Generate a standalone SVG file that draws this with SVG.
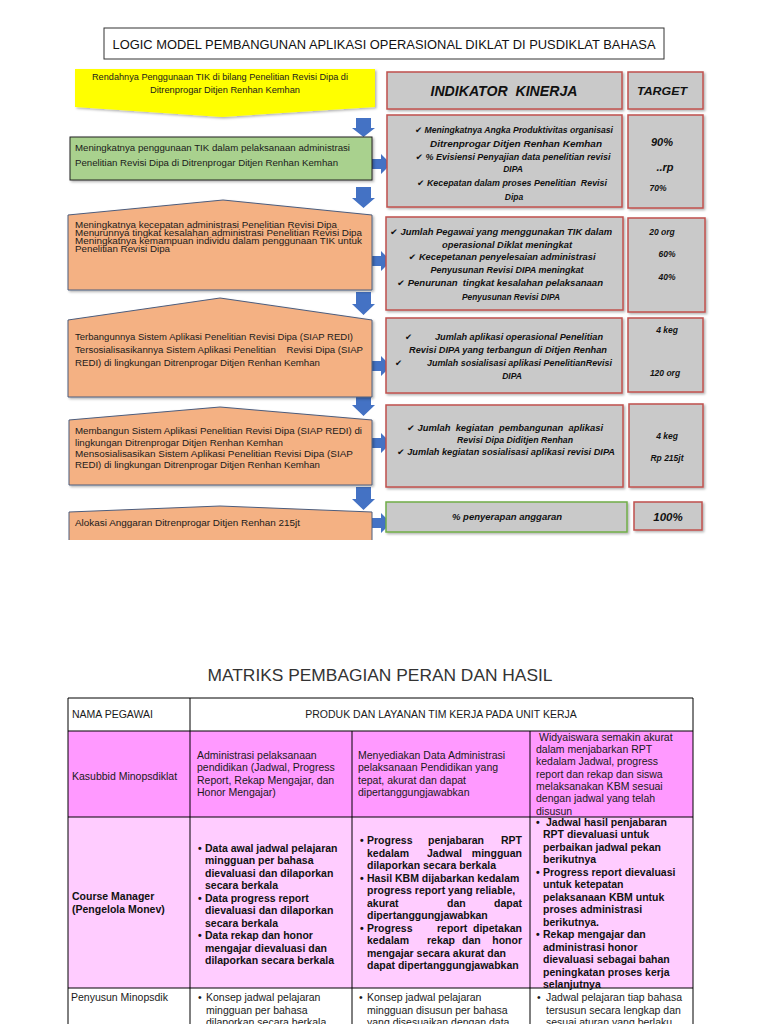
<svg xmlns="http://www.w3.org/2000/svg" width="768" height="1024" viewBox="0 0 768 1024">
<defs>
<style>
.lm{font-family:"Liberation Sans",Arial,sans-serif;font-size:8.5px;fill:#1a1a1a}
.ri{font-family:"Liberation Sans","DejaVu Sans",sans-serif;font-weight:bold;font-style:italic;font-size:8.5px;fill:#111}
.tb{font-family:"Liberation Sans",Arial,sans-serif;font-size:10.5px;fill:#1a1a1a}
.tbb{font-family:"Liberation Sans",Arial,sans-serif;font-size:10.5px;font-weight:bold;fill:#111}
.rbox{fill:#c9c9c9;stroke:#c0504d;stroke-width:1.5}
.obox{fill:#f4b183;stroke:#4d5d7d;stroke-width:1}
.arr{fill:#4472c4}
.grid{stroke:#000;stroke-width:1;fill:none}
</style>
<filter id="sh" x="-5%" y="-5%" width="115%" height="120%">
<feDropShadow dx="1.5" dy="1.5" stdDeviation="1.2" flood-color="#000" flood-opacity="0.3"/>
</filter>
</defs>
<rect width="768" height="1024" fill="#fff"/>

<g id="title">
<rect x="104" y="28" width="560" height="31" fill="#fff" stroke="#333" stroke-width="1"/>
<text x="384" y="49" text-anchor="middle" textLength="543" lengthAdjust="spacingAndGlyphs" style="font-family:'Liberation Sans',Arial,sans-serif;font-size:12.5px;fill:#111">LOGIC MODEL PEMBANGUNAN APLIKASI OPERASIONAL DIKLAT DI PUSDIKLAT BAHASA</text>
</g>

<g id="connectors">
<polygon class="arr" points="356,118 371,118 371,128 375,128 363.5,137 352,128 356,128"/>
<polygon class="arr" points="356,187 371,187 371,198 375,198 363.5,208 352,198 356,198"/>
<polygon class="arr" points="356,292 371,292 371,304 375,304 363.5,315 352,304 356,304"/>
<polygon class="arr" points="356,393 371,393 371,405 375,405 363.5,416 352,405 356,405"/>
<polygon class="arr" points="356,487 371,487 371,499 375,499 363.5,510 352,499 356,499"/>
<polygon class="arr" points="371,159 381,159 381,154 391,164 381,174 381,169 371,169"/>
<polygon class="arr" points="371,256 381,256 381,251 391,261 381,271 381,266 371,266"/>
<polygon class="arr" points="371,361 381,361 381,356 391,366 381,376 381,371 371,371"/>
<polygon class="arr" points="371,438 381,438 381,433 391,443 381,453 381,448 371,448"/>
<polygon class="arr" points="371,518 381,518 381,513 391,523 381,533 381,528 371,528"/>
</g>

<g id="n-problem">
<polygon points="75,69 375,69 375,107 222,117 75,107" fill="#ffff00" filter="url(#sh)"/>
<text class="lm" x="220" y="80" text-anchor="middle" textLength="256" lengthAdjust="spacingAndGlyphs">Rendahnya Penggunaan TIK di bilang Penelitian Revisi Dipa di</text>
<text class="lm" x="225" y="93" text-anchor="middle" textLength="150" lengthAdjust="spacingAndGlyphs">Ditrenprogar  Ditjen Renhan Kemhan</text>
</g>

<g id="n-impact">
<rect x="70" y="137" width="302" height="43" fill="#a9d18e" stroke="#222" stroke-width="1" filter="url(#sh)"/>
<text class="lm" x="75" y="151" textLength="275" lengthAdjust="spacingAndGlyphs">Meningkatnya penggunaan TIK dalam pelaksanaan administrasi</text>
<text class="lm" x="75" y="166" textLength="263" lengthAdjust="spacingAndGlyphs">Penelitian Revisi Dipa di Ditrenprogar Ditjen Renhan Kemhan</text>
</g>

<g id="n-outcome">
<polygon class="obox" points="68,215 223,200 372,215 372,290 68,290" filter="url(#sh)"/>
<text class="lm" x="75" y="228" textLength="262" lengthAdjust="spacingAndGlyphs">Meningkatnya kecepatan administrasi Penelitian Revisi Dipa</text>
<text class="lm" x="75" y="236" textLength="287" lengthAdjust="spacingAndGlyphs">Menurunnya tingkat kesalahan administrasi Penelitian Revisi Dipa</text>
<text class="lm" x="75" y="244" textLength="287" lengthAdjust="spacingAndGlyphs">Meningkatnya kemampuan individu dalam penggunaan TIK untuk</text>
<text class="lm" x="75" y="252" textLength="95" lengthAdjust="spacingAndGlyphs">Penelitian Revisi Dipa</text>
</g>

<g id="n-output">
<polygon class="obox" points="68,320 220,298 372,320 372,397 68,397" filter="url(#sh)"/>
<text class="lm" x="75" y="340" textLength="278" lengthAdjust="spacingAndGlyphs">Terbangunnya Sistem Aplikasi Penelitian Revisi Dipa  (SIAP REDI)</text>
<text class="lm" x="75" y="353" textLength="288" lengthAdjust="spacingAndGlyphs" xml:space="preserve">Tersosialisasikannya Sistem Aplikasi Penelitian    Revisi Dipa (SIAP</text>
<text class="lm" x="75" y="366" textLength="245" lengthAdjust="spacingAndGlyphs">REDI) di lingkungan Ditrenprogar Ditjen Renhan Kemhan</text>
</g>

<g id="n-activity">
<polygon class="obox" points="69,420 220,407 372,420 372,485 69,485" filter="url(#sh)"/>
<text class="lm" x="75" y="434" textLength="287" lengthAdjust="spacingAndGlyphs">Membangun  Sistem Aplikasi Penelitian Revisi Dipa  (SIAP REDI) di</text>
<text class="lm" x="75" y="446" textLength="208" lengthAdjust="spacingAndGlyphs">lingkungan Ditrenprogar Ditjen Renhan Kemhan</text>
<text class="lm" x="75" y="457" textLength="278" lengthAdjust="spacingAndGlyphs">Mensosialisasikan Sistem Aplikasi Penelitian Revisi Dipa  (SIAP</text>
<text class="lm" x="75" y="468" textLength="245" lengthAdjust="spacingAndGlyphs">REDI) di lingkungan Ditrenprogar Ditjen Renhan Kemhan</text>
</g>

<g id="n-input">
<polygon points="69,540 69,512 220,506 372,512 372,540" fill="#f4b183"/>
<polyline points="69,540 69,512 220,506 372,512 372,540" fill="none" stroke="#4d5d7d" stroke-width="1"/>
<text class="lm" x="75" y="526" textLength="225" lengthAdjust="spacingAndGlyphs">Alokasi Anggaran Ditrenprogar Ditjen Renhan 215jt</text>
</g>

<g id="n-indikator-head">
<rect class="rbox" x="387" y="72" width="235" height="37" filter="url(#sh)"/>
<text class="ri" x="504" y="96" text-anchor="middle" style="font-size:14px" textLength="147" lengthAdjust="spacingAndGlyphs" xml:space="preserve">INDIKATOR  KINERJA</text>
</g>
<g id="n-target-head">
<rect class="rbox" x="628" y="72" width="75" height="37" filter="url(#sh)"/>
<text class="ri" x="662" y="95" text-anchor="middle" style="font-size:10.5px" textLength="50" lengthAdjust="spacingAndGlyphs">TARGET</text>
</g>

<g id="n-ind-impact">
<rect class="rbox" x="387" y="115" width="235" height="92" filter="url(#sh)"/>
<text class="ri" x="514" y="133" text-anchor="middle" textLength="198" lengthAdjust="spacingAndGlyphs">✔ Meningkatnya Angka Produktivitas organisasi</text>
<text class="ri" x="516" y="147" text-anchor="middle" textLength="172" lengthAdjust="spacingAndGlyphs">Ditrenprogar Ditjen Renhan Kemhan</text>
<text class="ri" x="513" y="160" text-anchor="middle" textLength="195" lengthAdjust="spacingAndGlyphs">✔ % Evisiensi Penyajian data penelitian revisi</text>
<text class="ri" x="513" y="172" text-anchor="middle">DIPA</text>
<text class="ri" x="512" y="186" text-anchor="middle" textLength="190" lengthAdjust="spacingAndGlyphs" xml:space="preserve">✔ Kecepatan dalam proses Penelitian  Revisi</text>
<text class="ri" x="514" y="200" text-anchor="middle">Dipa</text>
</g>
<g id="n-tgt-impact">
<rect class="rbox" x="628" y="115" width="75" height="93" filter="url(#sh)"/>
<text class="ri" x="662" y="146" text-anchor="middle" style="font-size:11px">90%</text>
<text class="ri" x="665" y="171" text-anchor="middle" style="font-size:11px">..rp</text>
<text class="ri" x="658" y="191" text-anchor="middle">70%</text>
</g>

<g id="n-ind-outcome">
<rect class="rbox" x="386" y="217" width="237" height="93" filter="url(#sh)"/>
<text class="ri" x="501" y="235" text-anchor="middle" textLength="222" lengthAdjust="spacingAndGlyphs">✔ Jumlah Pegawai yang menggunakan TIK dalam</text>
<text class="ri" x="507" y="248" text-anchor="middle" textLength="130" lengthAdjust="spacingAndGlyphs">operasional Diklat meningkat</text>
<text class="ri" x="502" y="260" text-anchor="middle" textLength="187" lengthAdjust="spacingAndGlyphs">✔ Kecepetanan penyelesaian administrasi</text>
<text class="ri" x="507" y="273" text-anchor="middle" textLength="153" lengthAdjust="spacingAndGlyphs">Penyusunan Revisi DIPA meningkat</text>
<text class="ri" x="500" y="286" text-anchor="middle" textLength="206" lengthAdjust="spacingAndGlyphs" xml:space="preserve">✔ Penurunan  tingkat kesalahan pelaksanaan</text>
<text class="ri" x="511" y="300" text-anchor="middle" textLength="98" lengthAdjust="spacingAndGlyphs">Penyusunan Revisi DIPA</text>
</g>
<g id="n-tgt-outcome">
<rect class="rbox" x="628" y="218" width="77" height="94" filter="url(#sh)"/>
<text class="ri" x="662" y="235" text-anchor="middle">20 org</text>
<text class="ri" x="667" y="257" text-anchor="middle">60%</text>
<text class="ri" x="667" y="280" text-anchor="middle">40%</text>
</g>

<g id="n-ind-output">
<rect class="rbox" x="386" y="318" width="236" height="75" filter="url(#sh)"/>
<text class="ri" x="405" y="340">✔</text>
<text class="ri" x="435" y="340" textLength="168" lengthAdjust="spacingAndGlyphs">Jumlah aplikasi operasional Penelitian</text>
<text class="ri" x="508" y="353" text-anchor="middle" textLength="198" lengthAdjust="spacingAndGlyphs">Revisi DIPA yang terbangun di Ditjen Renhan</text>
<text class="ri" x="395" y="366">✔</text>
<text class="ri" x="427" y="366" textLength="185" lengthAdjust="spacingAndGlyphs">Jumlah sosialisasi aplikasi PenelitianRevisi</text>
<text class="ri" x="512" y="379" text-anchor="middle">DIPA</text>
</g>
<g id="n-tgt-output">
<rect class="rbox" x="628" y="318" width="75" height="74" filter="url(#sh)"/>
<text class="ri" x="667" y="333" text-anchor="middle">4 keg</text>
<text class="ri" x="665" y="376" text-anchor="middle">120 org</text>
</g>

<g id="n-ind-activity">
<rect class="rbox" x="386" y="405" width="237" height="82" filter="url(#sh)"/>
<text class="ri" x="505" y="431" text-anchor="middle" textLength="196" lengthAdjust="spacingAndGlyphs" xml:space="preserve">✔ Jumlah  kegiatan  pembangunan  aplikasi</text>
<text class="ri" x="515" y="443" text-anchor="middle" textLength="116" lengthAdjust="spacingAndGlyphs">Revisi Dipa Diditjen Renhan</text>
<text class="ri" x="506" y="455" text-anchor="middle" textLength="218" lengthAdjust="spacingAndGlyphs">✔ Jumlah kegiatan sosialisasi aplikasi revisi DIPA</text>
</g>
<g id="n-tgt-activity">
<rect class="rbox" x="629" y="404" width="74" height="83" filter="url(#sh)"/>
<text class="ri" x="667" y="439" text-anchor="middle">4 keg</text>
<text class="ri" x="667" y="461" text-anchor="middle">Rp 215jt</text>
</g>

<g id="n-ind-input">
<rect x="386" y="502" width="241" height="30" fill="#c9c9c9" stroke="#70ad47" stroke-width="1.5" filter="url(#sh)"/>
<text class="ri" x="507" y="520" text-anchor="middle" textLength="110" lengthAdjust="spacingAndGlyphs">% penyerapan anggaran</text>
</g>
<g id="n-tgt-input">
<rect class="rbox" x="634" y="502" width="68" height="28" filter="url(#sh)"/>
<text class="ri" x="668" y="521" text-anchor="middle" style="font-size:11.5px">100%</text>
</g>

<g id="matrix">
<text x="380" y="681" text-anchor="middle" textLength="345" lengthAdjust="spacingAndGlyphs" style="font-family:'Liberation Sans',Arial,sans-serif;font-size:17px;fill:#333">MATRIKS PEMBAGIAN PERAN DAN HASIL</text>
<rect x="68" y="731" width="625" height="86" fill="#ff99ff"/>
<rect x="68" y="817" width="625" height="171" fill="#ffccff"/>
<path class="grid" d="M68,698 H693 M68,731 H693 M68,817 H693 M68,988 H693 M68,698 V1024 M190,698 V1024 M693,698 V1024 M352,731 V1024 M530,731 V1024"/>

<text class="tb" x="72" y="718">NAMA PEGAWAI</text>
<text class="tb" x="441" y="718" text-anchor="middle">PRODUK DAN LAYANAN TIM KERJA PADA UNIT KERJA</text>

<text class="tb" x="72" y="780">Kasubbid Minopsdiklat</text>
<text class="tb" x="197" y="759">Administrasi pelaksanaan</text>
<text class="tb" x="197" y="771">pendidikan (Jadwal, Progress</text>
<text class="tb" x="197" y="784">Report, Rekap Mengajar, dan</text>
<text class="tb" x="197" y="796">Honor Mengajar)</text>
<text class="tb" x="358" y="759">Menyediakan Data Administrasi</text>
<text class="tb" x="358" y="771">pelaksanaan Pendidikan yang</text>
<text class="tb" x="358" y="784">tepat, akurat dan dapat</text>
<text class="tb" x="358" y="796">dipertanggungjawabkan</text>
<text class="tb" x="539" y="741">Widyaiswara semakin akurat</text>
<text class="tb" x="536" y="753">dalam menjabarkan RPT</text>
<text class="tb" x="536" y="765">kedalam Jadwal, progress</text>
<text class="tb" x="536" y="778">report dan rekap dan siswa</text>
<text class="tb" x="536" y="790">melaksanakan KBM sesuai</text>
<text class="tb" x="536" y="802">dengan jadwal yang telah</text>
<text class="tb" x="536" y="815">disusun</text>

<text class="tbb" x="72" y="900">Course Manager</text>
<text class="tbb" x="72" y="913">(Pengelola Monev)</text>

<text class="tbb" x="198" y="851.5">•</text>
<text class="tbb" x="205" y="851.5">Data awal jadwal pelajaran</text>
<text class="tbb" x="205" y="864">mingguan per bahasa</text>
<text class="tbb" x="205" y="876.5">dievaluasi dan dilaporkan</text>
<text class="tbb" x="205" y="889">secara berkala</text>
<text class="tbb" x="198" y="901.5">•</text>
<text class="tbb" x="205" y="901.5">Data progress report</text>
<text class="tbb" x="205" y="914">dievaluasi dan dilaporkan</text>
<text class="tbb" x="205" y="926.5">secara berkala</text>
<text class="tbb" x="198" y="939">•</text>
<text class="tbb" x="205" y="939">Data rekap dan honor</text>
<text class="tbb" x="205" y="951.5">mengajar dievaluasi dan</text>
<text class="tbb" x="205" y="964">dilaporkan secara berkala</text>

<text class="tbb" x="360" y="844">•</text>
<text class="tbb" x="367" y="844">Progress</text>
<text class="tbb" x="428" y="844">penjabaran</text>
<text class="tbb" x="522" y="844" text-anchor="end">RPT</text>
<text class="tbb" x="367" y="856.5">kedalam</text>
<text class="tbb" x="427" y="856.5">Jadwal</text>
<text class="tbb" x="522" y="856.5" text-anchor="end">mingguan</text>
<text class="tbb" x="367" y="869">dilaporkan secara berkala</text>
<text class="tbb" x="360" y="881.5">•</text>
<text class="tbb" x="367" y="881.5">Hasil KBM dijabarkan kedalam</text>
<text class="tbb" x="367" y="894">progress report yang reliable,</text>
<text class="tbb" x="367" y="906.5">akurat</text>
<text class="tbb" x="447" y="906.5">dan</text>
<text class="tbb" x="522" y="906.5" text-anchor="end">dapat</text>
<text class="tbb" x="367" y="919">dipertanggungjawabkan</text>
<text class="tbb" x="360" y="931.5">•</text>
<text class="tbb" x="367" y="931.5">Progress</text>
<text class="tbb" x="437" y="931.5">report</text>
<text class="tbb" x="522" y="931.5" text-anchor="end">dipetakan</text>
<text class="tbb" x="367" y="944">kedalam</text>
<text class="tbb" x="427" y="944">rekap</text>
<text class="tbb" x="462" y="944">dan</text>
<text class="tbb" x="522" y="944" text-anchor="end">honor</text>
<text class="tbb" x="367" y="956.5">mengajar secara akurat dan</text>
<text class="tbb" x="367" y="969">dapat dipertanggungjawabkan</text>

<text class="tbb" x="536" y="825.5">•</text>
<text class="tbb" x="546" y="825.5">Jadwal hasil penjabaran</text>
<text class="tbb" x="543" y="838">RPT dievaluasi untuk</text>
<text class="tbb" x="543" y="850.5">perbaikan jadwal pekan</text>
<text class="tbb" x="543" y="863">berikutnya</text>
<text class="tbb" x="536" y="875.5">•</text>
<text class="tbb" x="543" y="875.5">Progress report dievaluasi</text>
<text class="tbb" x="543" y="888">untuk ketepatan</text>
<text class="tbb" x="543" y="900.5">pelaksanaan KBM untuk</text>
<text class="tbb" x="543" y="913">proses administrasi</text>
<text class="tbb" x="543" y="925.5">berikutnya.</text>
<text class="tbb" x="536" y="938">•</text>
<text class="tbb" x="543" y="938">Rekap mengajar dan</text>
<text class="tbb" x="543" y="950.5">administrasi honor</text>
<text class="tbb" x="543" y="963">dievaluasi sebagai bahan</text>
<text class="tbb" x="543" y="975.5">peningkatan proses kerja</text>
<text class="tbb" x="543" y="988">selanjutnya</text>

<text class="tb" x="71" y="1001">Penyusun Minopsdik</text>
<text class="tb" x="198" y="1001">•</text>
<text class="tb" x="206" y="1001">Konsep jadwal pelajaran</text>
<text class="tb" x="206" y="1013.5">mingguan per bahasa</text>
<text class="tb" x="206" y="1026">dilaporkan secara berkala</text>
<text class="tb" x="359" y="1001">•</text>
<text class="tb" x="367" y="1001">Konsep jadwal pelajaran</text>
<text class="tb" x="367" y="1013.5">mingguan disusun per bahasa</text>
<text class="tb" x="367" y="1026">yang disesuaikan dengan data</text>
<text class="tb" x="537" y="1001">•</text>
<text class="tb" x="546" y="1001">Jadwal pelajaran tiap bahasa</text>
<text class="tb" x="546" y="1013.5">tersusun secara lengkap dan</text>
<text class="tb" x="546" y="1026">sesuai aturan yang berlaku</text>
</g>
</svg>
